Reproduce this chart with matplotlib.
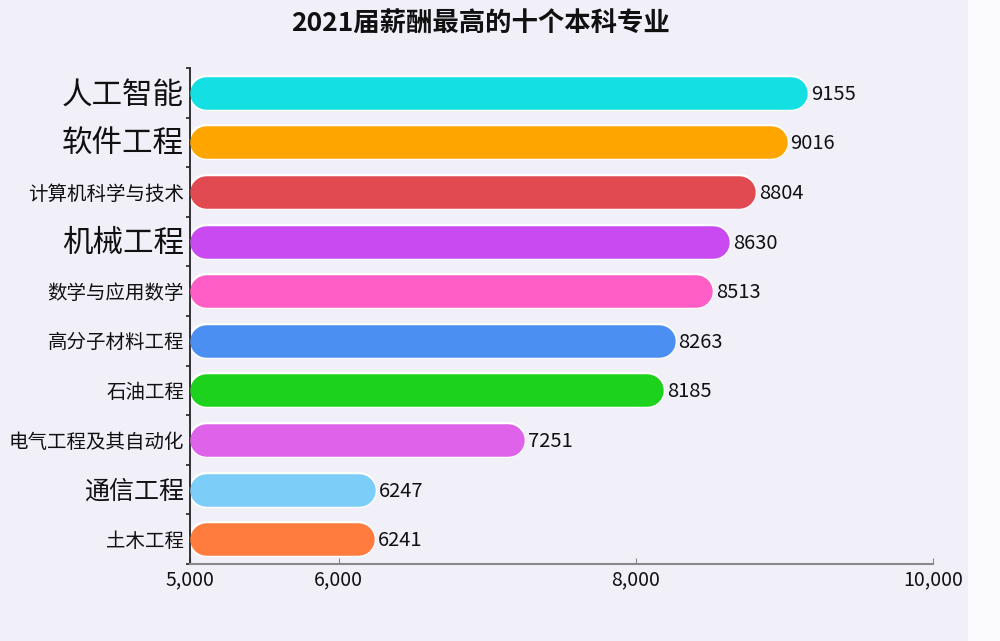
import matplotlib
matplotlib.use('Agg')
import matplotlib.pyplot as plt
import numpy as np
from matplotlib.patches import Rectangle
from matplotlib.ticker import FuncFormatter

plt.rcParams['font.family'] = ['Noto Sans CJK SC', 'DejaVu Sans']

# 数据
zhuanye = ['人工智能', '软件工程', '计算机科学与技术', '机械工程', '数学与应用数学',
           '高分子材料工程', '石油工程', '电气工程及其自动化', '通信工程', '土木工程']
xinchou = [9155, 9016, 8804, 8630, 8513, 8263, 8185, 7251, 6247, 6241]
yanse = ['#14dfe2', '#ffa500', '#e04a50', '#c94af0', '#ff5ec6',
         '#4c8ff3', '#1dd21d', '#de62ea', '#7ccdf8', '#ff7c3e']
zihao = [22, 22, 14, 22, 14, 14, 14, 14, 18, 14]
xticks = [5000, 6000, 8000, 10000]

bg = '#f1f0f9'
fig = plt.figure(figsize=(10, 6.41), dpi=100, facecolor=bg)
# 右侧白条
fig.patches.append(Rectangle((0.968, 0), 0.032, 1, transform=fig.transFigure,
                             facecolor='#fbfbfd', edgecolor='none', zorder=-1))

ax = fig.add_axes([0.19, 0.12, 0.743, 0.774])
ax.set_facecolor(bg)
ax.set_xlim(5000, 10000)
ax.set_ylim(9.5, -0.5)

# 圆头条形：用粗线 + 圆形线帽
ax_w_px = 0.743 * 1000
bar_px = 32.5
lw = bar_px * 72 / 100
r = (bar_px / 2) * 5000 / ax_w_px

for i, (v, c) in enumerate(zip(xinchou, yanse)):
    ax.plot([5000 + r, v - r], [i, i], color='white', lw=lw + 2.5,
            solid_capstyle='round', zorder=2, clip_on=False)
    ax.plot([5000 + r, v - r], [i, i], color=c, lw=lw,
            solid_capstyle='round', zorder=3, clip_on=False)
    ax.text(v + 25, i + 0.03, str(v), va='center', ha='left',
            fontsize=14.5, color='#111111', zorder=4)

ax.set_yticks(range(len(zhuanye)))
ax.set_yticklabels([])
for i, (lab, s) in enumerate(zip(zhuanye, zihao)):
    ax.text(-0.008, i + 0.04, lab, transform=ax.get_yaxis_transform(),
            ha='right', va='center', fontsize=s, color='#111111',
            fontweight='medium' if s > 15 else 'normal')
ax.tick_params(axis='y', which='major', length=0)
ax.set_yticks(np.arange(-0.5, 10, 1), minor=True)
ax.tick_params(axis='y', which='minor', length=3, width=1.2, color='#222222')

ax.set_xticks(xticks)
ax.xaxis.set_major_formatter(FuncFormatter(lambda x, p: f'{int(x):,}'))
ax.tick_params(axis='x', direction='in', length=4, color='#888888',
               labelsize=14, labelcolor='#111111', pad=4)

for s in ['top', 'right']:
    ax.spines[s].set_visible(False)
ax.spines['left'].set_color('#222222')
ax.spines['left'].set_linewidth(1.3)
ax.spines['bottom'].set_color('#888888')
ax.spines['bottom'].set_linewidth(1.5)

fig.text(0.48, 0.963, '2021届薪酬最高的十个本科专业', ha='center', va='center',
         fontsize=19, fontweight='bold', color='#111111')

plt.savefig('out.png', dpi=100, facecolor=bg)
